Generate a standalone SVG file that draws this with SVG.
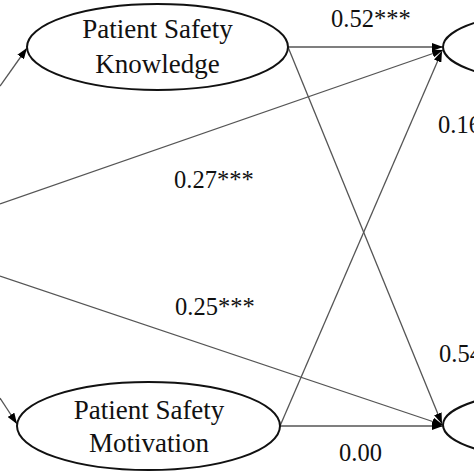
<svg xmlns="http://www.w3.org/2000/svg" width="474" height="474" viewBox="0 0 474 474">
<style>
.node{fill:#fff;stroke:#111;stroke-width:2}
.t{font-family:"Liberation Serif","Times New Roman",serif;font-size:27px;fill:#111;text-anchor:middle}
.l{font-family:"Liberation Serif","Times New Roman",serif;font-size:24.5px;fill:#111}
.c{stroke:#555;stroke-width:1.3;fill:none;marker-end:url(#ah)}
</style>
<defs>
<marker id="ah" markerWidth="11" markerHeight="8" refX="11" refY="4" orient="auto" markerUnits="userSpaceOnUse">
<path d="M0,0 L11,4 L0,8 z" fill="#000"/>
</marker>
</defs>
<rect width="474" height="474" fill="#fff"/>
<g id="connectors">
<line class="c" x1="0" y1="86" x2="27" y2="48"/>
<line class="c" x1="0" y1="398" x2="17" y2="424"/>
<line class="c" x1="288" y1="47" x2="443" y2="47"/>
<line class="c" x1="0" y1="204" x2="443" y2="50"/>
<line class="c" x1="280" y1="426" x2="442" y2="51"/>
<line class="c" x1="288" y1="47" x2="442" y2="424"/>
<line class="c" x1="0" y1="276" x2="443" y2="425"/>
<line class="c" x1="280" y1="426" x2="443" y2="426"/>
</g>
<g id="knowledge">
<ellipse class="node" cx="157.5" cy="47" rx="130.5" ry="43"/>
<text class="t" x="157.5" y="38">Patient Safety</text>
<text class="t" x="157.5" y="73">Knowledge</text>
</g>
<g id="motivation">
<ellipse class="node" cx="148.5" cy="426" rx="131.5" ry="44"/>
<text class="t" x="149" y="419">Patient Safety</text>
<text class="t" x="149" y="452">Motivation</text>
</g>
<g id="outcome-top">
<ellipse class="node" cx="573" cy="47" rx="130" ry="37"/>
</g>
<g id="outcome-bottom">
<ellipse class="node" cx="573" cy="425" rx="130" ry="36"/>
</g>
<g id="labels">
<text class="l" x="331" y="27">0.52***</text>
<text class="l" x="438" y="133">0.16</text>
<text class="l" x="174" y="188">0.27***</text>
<text class="l" x="175" y="315">0.25***</text>
<text class="l" x="439" y="362">0.54</text>
<text class="l" x="339" y="461">0.00</text>
</g>
</svg>
